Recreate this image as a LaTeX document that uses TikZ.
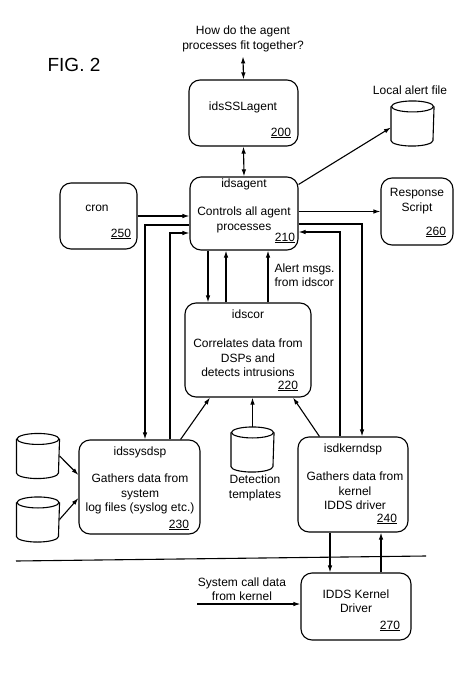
\documentclass[tikz,border=0pt]{standalone}
\usepackage{fontspec}
\setmainfont{Liberation Sans}
\usetikzlibrary{arrows.meta}

% a data store: empty node plus the drawn cylinder round it
\newcommand{\dbase}[2]{%
  \node[dbox] (#1) at (#2) {};
  \draw ([yshift=-5.5pt]#1.north) ellipse [x radius=21pt,y radius=5.5pt];
  \draw ([yshift=-5.5pt]#1.north west) -- ([yshift=5.5pt]#1.south west)
    arc[start angle=180,end angle=360,x radius=21pt,y radius=5.5pt]
    -- ([yshift=-5.5pt]#1.north east);}

\begin{document}
\begin{tikzpicture}[x=1pt,y=-1pt,font=\fontsize{12}{14.5}\selectfont,line width=1.1pt,
  box/.style={draw,rounded corners=11pt,inner sep=0pt},
  dbox/.style={inner sep=0pt,minimum width=42pt,minimum height=44pt},
  txt/.style={inner sep=0pt,align=center},
  num/.style={inner sep=0pt},
  >={Latex[length=7pt,width=4.5pt]}]

  \useasboundingbox (0,0) rectangle (474,674);

  \node[txt,font=\fontsize{19}{22}\selectfont] (fig) at (74,65) {FIG. 2};
  \node[txt] (q) at (243,39) {How do the agent\\processes fit together?};

  % boxes
  \node[box,minimum width=109pt,minimum height=66pt] (sslag) at (243.5,113) {};
  \node[box,minimum width=108pt,minimum height=73pt] (agent) at (244,213.5) {};
  \node[box,minimum width=77pt,minimum height=66pt] (cron) at (98.5,216) {};
  \node[box,minimum width=72pt,minimum height=67pt] (resp) at (417,211.5) {};
  \node[box,minimum width=126pt,minimum height=94pt] (cor) at (248,350) {};
  \node[box,minimum width=121pt,minimum height=94pt] (sysdsp) at (139.5,487) {};
  \node[box,minimum width=110pt,minimum height=95pt] (kerndsp) at (353,484.5) {};
  \node[box,minimum width=110pt,minimum height=67pt] (driver) at (356,606.5) {};

  % data stores
  \dbase{alert}{412.5,123.5}
  \dbase{db1}{38,456}
  \dbase{db2}{38,519.5}
  \dbase{tmpl}{252.5,449.5}

  % texts in and round the boxes
  \node[txt] (sslag-t) at (243,107) {idsSSLagent};
  \node[num] (sslag-n) at (281,133) {\underline{200}};
  \node[txt] (agent-t) at (244,184) {idsagent};
  \node[txt] (agent-d) at (244,220) {Controls all agent\\processes};
  \node[num] (agent-n) at (285,238) {\underline{210}};
  \node[txt] (alert-t) at (410,90) {Local alert file};
  \node[txt] (cron-t) at (97,208) {cron};
  \node[num] (cron-n) at (121,234) {\underline{250}};
  \node[txt] (resp-t) at (417,201) {Response\\Script};
  \node[num] (resp-n) at (436,232) {\underline{260}};
  \node[txt,align=left,anchor=west] (msgs) at (274,275) {Alert msgs.\\from idscor};
  \node[txt] (cor-t) at (248,314) {idscor};
  \node[txt] (cor-d) at (248,358) {Correlates data from\\DSPs and\\detects intrusions};
  \node[num] (cor-n) at (288,386) {\underline{220}};
  \node[txt] (sysdsp-t) at (140,452) {idssysdsp};
  \node[txt] (sysdsp-d) at (140,494) {Gathers data from\\system\\log files (syslog etc.)};
  \node[num] (sysdsp-n) at (179,525) {\underline{230}};
  \node[txt] (tmpl-t) at (255,488) {Detection\\templates};
  \node[txt] (kerndsp-t) at (353,449) {isdkerndsp};
  \node[txt] (kerndsp-d) at (355,491) {Gathers data from\\kernel\\IDDS driver};
  \node[num] (kerndsp-n) at (387,519) {\underline{240}};
  \node[txt] (driver-t) at (356,601) {IDDS Kernel\\Driver};
  \node[num] (driver-n) at (390,626) {\underline{270}};
  \node[txt] (sc-t) at (242,589) {System call data\\from kernel};

  % corner points of the long loops
  \coordinate (ll1) at (145,225);
  \coordinate (ll2) at (170,233);
  \coordinate (rr1) at (362,224);
  \coordinate (rr2) at (340,232);
  \coordinate (sc) at (197,604);
  \coordinate (sepl) at (16,561);
  \coordinate (sepr) at (426,556);

  % top part
  \draw[<->] ([yshift=-4pt]q.south) -- (sslag.north);
  \draw[<->] (sslag.south) -- (agent.north);
  \draw[->] ([yshift=-8pt]agent.north east) -- ([yshift=-4pt]alert.west);
  \draw[->] (cron.east) -- (cron.east -| agent.west);
  \draw[->] (resp.west -| agent.east) -- (resp.west);

  % agent and correlator
  \draw[->] ([xshift=-36pt]agent.south) -- ([xshift=-36pt]agent.south |- cor.north);
  \draw[->] ([xshift=-18pt]agent.south |- cor.north) -- ([xshift=-18pt]agent.south);
  \draw[->] ([xshift=24pt]agent.south |- cor.north) -- ([xshift=24pt]agent.south);

  % loops to the DSPs
  \draw[->] (agent.west |- ll1) -- (ll1) -- (ll1 |- sysdsp.north);
  \draw[->] (ll2 |- sysdsp.north) -- (ll2) -- (agent.west |- ll2);
  \draw[->] (agent.east |- rr1) -- (rr1) -- (rr1 |- kerndsp.north);
  \draw[->] (rr2 |- kerndsp.north) -- (rr2) -- (agent.east |- rr2);

  % into the correlator
  \draw[->] ([xshift=-20pt]sysdsp.north east) -- ([xshift=-38pt]cor.south);
  \draw[->] (tmpl.north) -- (tmpl.north |- cor.south);
  \draw[->] ([xshift=22pt]kerndsp.north west) -- ([xshift=45pt]cor.south);

  % log files
  \draw[->] (db1.east) -- ([yshift=12pt]sysdsp.west);
  \draw[->] (db2.east) -- ([yshift=-11pt]sysdsp.west);

  % kernel side
  \draw (sepl) -- (sepr);
  \draw[->] ([xshift=-23pt]kerndsp.south) -- ([xshift=-23pt]kerndsp.south |- driver.north);
  \draw[->] ([xshift=28pt]kerndsp.south |- driver.north) -- ([xshift=28pt]kerndsp.south);
  \draw[->] (sc) -- (sc -| driver.west);
\end{tikzpicture}
\end{document}
